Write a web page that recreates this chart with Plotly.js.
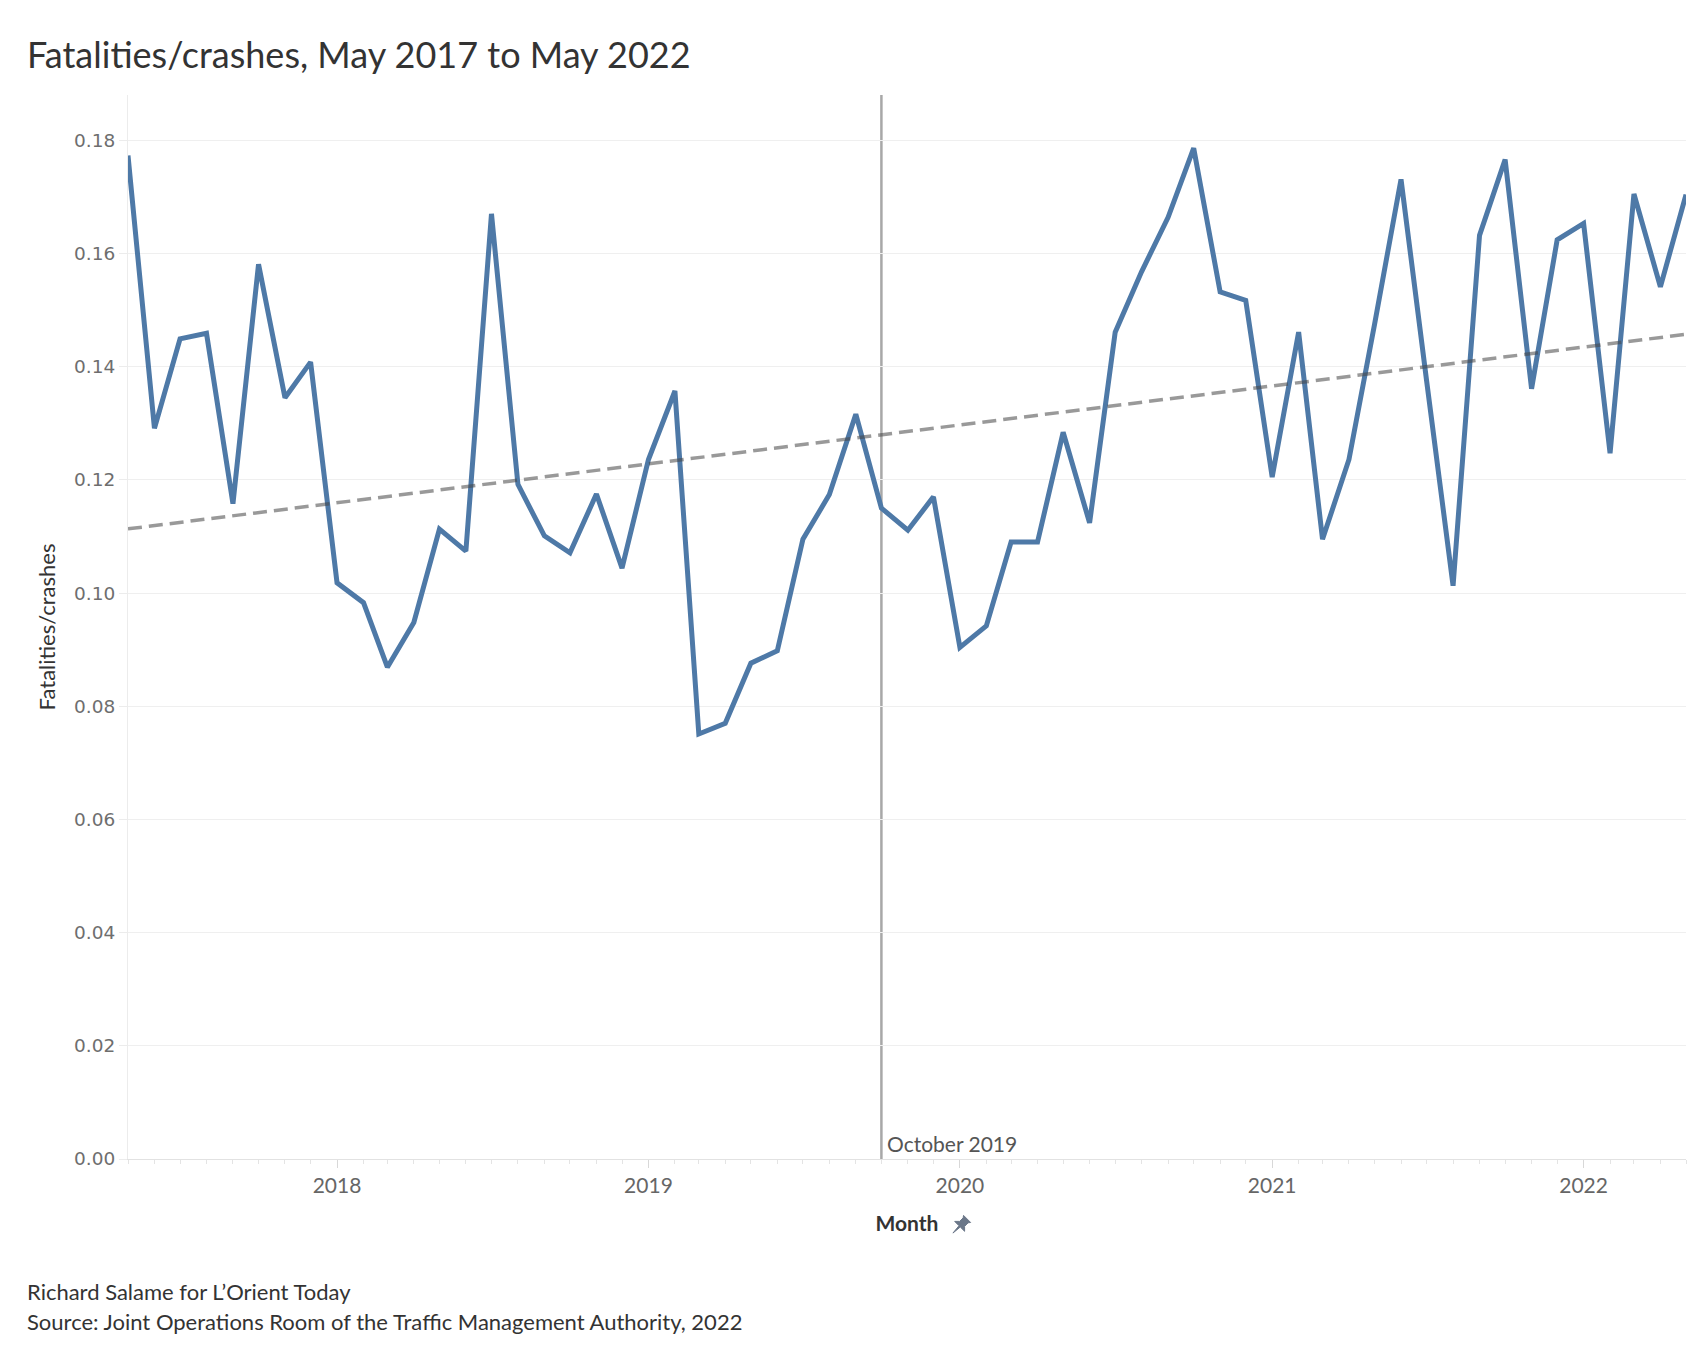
<!DOCTYPE html>
<html>
<head>
<meta charset="utf-8">
<script src="https://cdn.plot.ly/plotly-3.0.1.min.js"></script>
<style>
  html, body { margin: 0; padding: 0; background: #ffffff; }
  #chart { width: 1706px; height: 1365px; }
</style>
</head>
<body>
<div id="chart"></div>
<script>
// ---- Data ----
const months = [
  '2017-05-01','2017-06-01','2017-07-01','2017-08-01','2017-09-01','2017-10-01','2017-11-01','2017-12-01',
  '2018-01-01','2018-02-01','2018-03-01','2018-04-01','2018-05-01','2018-06-01','2018-07-01','2018-08-01',
  '2018-09-01','2018-10-01','2018-11-01','2018-12-01',
  '2019-01-01','2019-02-01','2019-03-01','2019-04-01','2019-05-01','2019-06-01','2019-07-01','2019-08-01',
  '2019-09-01','2019-10-01','2019-11-01','2019-12-01',
  '2020-01-01','2020-02-01','2020-03-01','2020-04-01','2020-05-01','2020-06-01','2020-07-01','2020-08-01',
  '2020-09-01','2020-10-01','2020-11-01','2020-12-01',
  '2021-01-01','2021-02-01','2021-03-01','2021-04-01','2021-05-01','2021-06-01','2021-07-01','2021-08-01',
  '2021-09-01','2021-10-01','2021-11-01','2021-12-01',
  '2022-01-01','2022-02-01','2022-03-01','2022-04-01','2022-05-01'
];
const fatalitiesPerCrash = [
  0.1773, 0.1291, 0.1449, 0.1459, 0.1158, 0.1581, 0.1345, 0.1408,
  0.1018, 0.0983, 0.0869, 0.0948, 0.1113, 0.1074, 0.1670, 0.1192,
  0.1101, 0.1071, 0.1175, 0.1044,
  0.1236, 0.1357, 0.0751, 0.0770, 0.0876, 0.0898, 0.1095, 0.1174,
  0.1316, 0.1150, 0.1111, 0.1170,
  0.0904, 0.0942, 0.1090, 0.1090, 0.1284, 0.1124, 0.1461, 0.1568,
  0.1664, 0.1786, 0.1532, 0.1517,
  0.1205, 0.1461, 0.1095, 0.1236, 0.1475, 0.1731, 0.1375, 0.1013,
  0.1632, 0.1766, 0.1361, 0.1624,
  0.1653, 0.1247, 0.1705, 0.1541, 0.1704
];
const markerDate = '2019-10-01';
const markerLabel = 'October 2019';
const yTickVals = [0, 0.02, 0.04, 0.06, 0.08, 0.10, 0.12, 0.14, 0.16, 0.18];
const titleText = 'Fatalities/crashes, May 2017 to May 2022';
const yTitle = 'Fatalities/crashes';
const xTitle = 'Month';
const creditLine = 'Richard Salame for L\u2019Orient Today';
const sourceLine = 'Source: Joint Operations Room of the Traffic Management Authority, 2022';

// ---- Linear trend (least squares on time) ----
const tms = months.map(d => new Date(d + 'T00:00:00Z').getTime());
const n = tms.length;
const mx = tms.reduce((a, b) => a + b, 0) / n;
const my = fatalitiesPerCrash.reduce((a, b) => a + b, 0) / n;
let sxy = 0, sxx = 0;
for (let i = 0; i < n; i++) { sxy += (tms[i] - mx) * (fatalitiesPerCrash[i] - my); sxx += (tms[i] - mx) ** 2; }
const slope = sxy / sxx;
const trendX = [months[0], months[n - 1]];
const trendY = [my + slope * (tms[0] - mx), my + slope * (tms[n - 1] - mx)];

// ---- Pin icon path (pixel coordinates relative to anchor) ----
const pinPts = [[-5,10],[5,10],[3.5,8],[3.5,3],[7,-0.5],[0.9,-0.5],[0,-10],[-0.9,-0.5],[-7,-0.5],[-3.5,3],[-3.5,8]];
const c = Math.SQRT1_2;
const pinPath = pinPts.map((p, i) => {
  const x = c * (p[0] + p[1]);
  const y = c * (p[1] - p[0]);
  return (i === 0 ? 'M' : 'L') + x.toFixed(2) + ',' + y.toFixed(2);
}).join(' ') + ' Z';

const traces = [
  {
    type: 'scatter', mode: 'lines', x: months, y: fatalitiesPerCrash,
    line: { color: '#4e79a7', width: 5, shape: 'linear' },
    hoverinfo: 'x+y', showlegend: false
  },
  {
    type: 'scatter', mode: 'lines', x: trendX, y: trendY,
    line: { color: 'rgba(70,70,70,0.55)', width: 3.5, dash: '14px,7px' },
    hoverinfo: 'skip', showlegend: false
  }
];

const layout = {
  width: 1706, height: 1365,
  margin: { l: 128, r: 20, t: 95, b: 206 },
  paper_bgcolor: '#ffffff', plot_bgcolor: '#ffffff',
  font: { family: 'Lato, sans-serif', color: '#333333' },
  title: {
    text: titleText,
    font: { family: 'Lato, sans-serif', size: 36, color: '#333333' },
    xref: 'container', yref: 'container',
    x: 27 / 1706, xanchor: 'left',
    y: 1 - 55 / 1365, yanchor: 'middle'
  },
  xaxis: {
    type: 'date',
    range: [months[0], months[n - 1]],
    showgrid: false, zeroline: false,
    showline: true, linecolor: '#e2e2e2', linewidth: 1,
    ticks: 'outside', ticklen: 8, tickcolor: '#d8d8d8', tickwidth: 1,
    dtick: 'M12', tick0: '2018-01-01', tickformat: '%Y',
    tickfont: { family: 'Lato, sans-serif', size: 21, color: '#666666' },
    minor: { dtick: 'M1', ticks: 'outside', ticklen: 4, tickcolor: '#e4e4e4', showgrid: false },
    title: {
      text: xTitle,
      font: { family: 'Lato, sans-serif', size: 21, color: '#333333', weight: 'bold' },
      standoff: 20
    }
  },
  yaxis: {
    range: [0, 0.188],
    tickvals: yTickVals, tickformat: '.2f',
    showgrid: true, gridcolor: '#efefef', gridwidth: 1,
    zeroline: false,
    showline: true, linecolor: '#ececec', linewidth: 1,
    ticks: 'outside', ticklen: 8, tickcolor: '#ececec',
    tickfont: { family: 'DejaVu Sans, sans-serif', size: 18.5, color: '#6e6e6e' },
    title: {
      text: yTitle,
      font: { family: 'Lato, sans-serif', size: 22, color: '#333333' },
      standoff: 12
    }
  },
  shapes: [
    {
      type: 'line', xref: 'x', yref: 'paper',
      x0: markerDate, x1: markerDate, y0: 0, y1: 1,
      line: { color: '#a8a8a8', width: 2.5 },
      layer: 'between'
    },
    {
      type: 'path', xref: 'paper', yref: 'paper',
      xsizemode: 'pixel', ysizemode: 'pixel',
      xanchor: (960 - 128) / 1558, yanchor: (1159 - 1226) / 1064,
      path: pinPath,
      fillcolor: '#6b7789', line: { color: '#6b7789', width: 1 }
    }
  ],
  annotations: [
    {
      text: markerLabel, xref: 'x', yref: 'paper',
      x: markerDate, y: 16 / 1064, xanchor: 'left', yanchor: 'middle',
      xshift: 4, showarrow: false,
      font: { family: 'Lato, sans-serif', size: 21, color: '#555555' }
    },
    {
      text: creditLine, xref: 'paper', yref: 'paper',
      x: (25 - 128) / 1558, y: (1159 - 1291) / 1064,
      xanchor: 'left', yanchor: 'middle', showarrow: false,
      font: { family: 'Lato, sans-serif', size: 22, color: '#333333' }
    },
    {
      text: sourceLine, xref: 'paper', yref: 'paper',
      x: (25 - 128) / 1558, y: (1159 - 1321) / 1064,
      xanchor: 'left', yanchor: 'middle', showarrow: false,
      font: { family: 'Lato, sans-serif', size: 22, color: '#333333' }
    }
  ]
};

Plotly.newPlot('chart', traces, layout, { displayModeBar: false, staticPlot: true });
</script>
</body>
</html>
